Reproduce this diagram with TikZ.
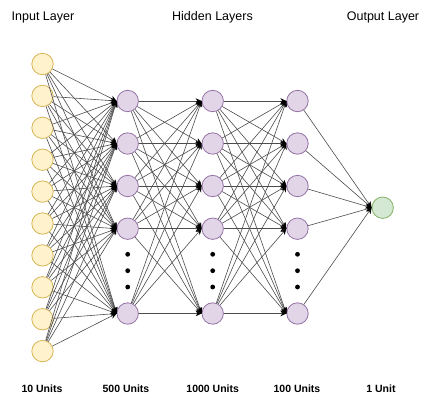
\documentclass[tikz,border=0pt]{standalone}
\usepackage{fontspec}
\setmainfont{Liberation Sans}
\usetikzlibrary{arrows.meta}
\definecolor{inFill}{HTML}{FFF2CC}
\definecolor{inDraw}{HTML}{D6B656}
\definecolor{hidFill}{HTML}{E1D5E7}
\definecolor{hidDraw}{HTML}{9673A6}
\definecolor{outFill}{HTML}{D5E8D4}
\definecolor{outDraw}{HTML}{82B366}
\begin{document}
\begin{tikzpicture}[x=1pt,y=-1pt,
  neuron/.style={circle,minimum size=21.4pt,inner sep=0pt,line width=0.8pt},
  inN/.style={neuron,draw=inDraw,fill=inFill},
  hidN/.style={neuron,draw=hidDraw,fill=hidFill},
  outN/.style={neuron,draw=outDraw,fill=outFill},
  conn/.style={draw=black!70,line width=0.6pt,-{Stealth[length=6pt,width=5.5pt,black]}},
  dotN/.style={circle,fill=black,minimum size=4.8pt,inner sep=0pt},
  title/.style={font=\fontsize{12.5}{15}\selectfont},
  units/.style={font=\bfseries\fontsize{10.5}{13}\selectfont}]
\useasboundingbox (0,0) rectangle (426,405);
% input layer
\foreach \i in {1,...,10}
  \node[inN] (i\i) at (42.5,{64+31.9*(\i-1)}) {};
% hidden layers
\foreach \L/\x in {a/127.7,b/212.7,c/297.5}{
  \foreach \j/\y in {1/101,2/143.5,3/186,4/228.7,5/313.5}
    \node[hidN] (\L\j) at (\x,\y) {};
  \foreach \k/\y in {1/254.3,2/270.7,3/287}
    \node[dotN] (\L d\k) at (\x,\y) {};
}
% output
\node[outN] (o) at (382.7,207.7) {};
% connections
\foreach \i in {1,...,10}
  \foreach \j in {1,...,5}
    \draw[conn] (i\i) -- (a\j.west);
\foreach \i in {1,...,5}
  \foreach \j in {1,...,5}{
    \draw[conn] (a\i) -- (b\j.west);
    \draw[conn] (b\i) -- (c\j.west);
  }
\foreach \i in {1,...,5}
  \draw[conn] (c\i) -- (o.west);
% titles
\node[title] (t1) at (43,17) {Input Layer};
\node[title] (t2) at (212.5,17) {Hidden Layers};
\node[title] (t3) at (383,17) {Output Layer};
% unit labels
\node[units] (u1) at (42,389) {10 Units};
\node[units] (u2) at (126,389) {500 Units};
\node[units] (u3) at (212.7,389) {1000 Units};
\node[units] (u4) at (297,389) {100 Units};
\node[units] (u5) at (381,389) {1 Unit};
\end{tikzpicture}
\end{document}
